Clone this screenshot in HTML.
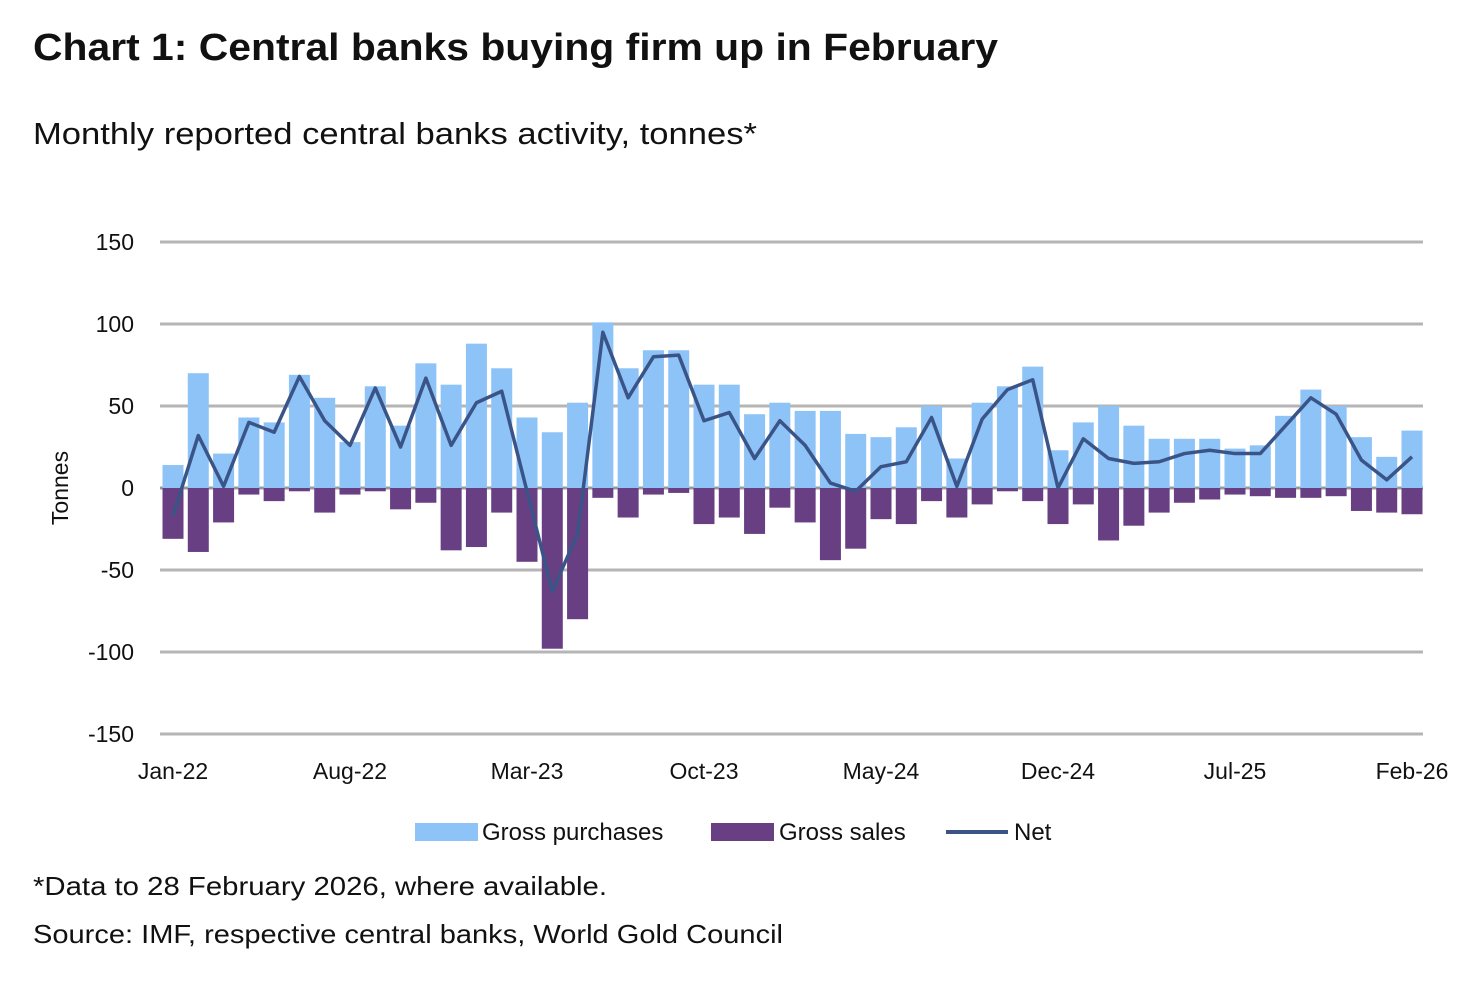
<!DOCTYPE html>
<html><head><meta charset="utf-8"><style>
html,body{margin:0;padding:0;background:#fff}
svg text{font-family:"Liberation Sans","DejaVu Sans",sans-serif;fill:#111}
</style></head><body>
<svg id="chart" width="1470" height="1002" viewBox="0 0 1470 1002" xmlns="http://www.w3.org/2000/svg">
<text x="33" y="60" font-size="38" font-weight="bold" textLength="965" lengthAdjust="spacingAndGlyphs">Chart 1: Central banks buying firm up in February</text>
<text x="33" y="144" font-size="31" textLength="724" lengthAdjust="spacingAndGlyphs">Monthly reported central banks activity, tonnes*</text>
<g id="grid"></g>
<g id="bars"></g>
<g id="line"></g>
<g id="axes"></g>
<text transform="translate(68,488) rotate(-90)" font-size="23" text-anchor="middle">Tonnes</text>
<g>
<rect x="415" y="823" width="63" height="18" fill="#8dc3f7"/>
<text x="482" y="840" font-size="24">Gross purchases</text>
<rect x="711" y="823" width="63" height="18" fill="#683f83"/>
<text x="779" y="840" font-size="24">Gross sales</text>
<line x1="946" y1="832" x2="1008" y2="832" stroke="#3b5488" stroke-width="4"/>
<text x="1014" y="840" font-size="24">Net</text>
</g>
<text x="33" y="895" font-size="26" textLength="574" lengthAdjust="spacingAndGlyphs">*Data to 28 February 2026, where available.</text>
<text x="33" y="943" font-size="26" textLength="750" lengthAdjust="spacingAndGlyphs">Source: IMF, respective central banks, World Gold Council</text>
</svg>
<script>
const purchases=[14,70,21,43,40,69,55,28,62,38,76,63,88,73,43,34,52,101,73,84,84,63,63,45,52,47,47,33,31,37,50,18,52,62,74,23,40,50,38,30,30,30,24,26,44,60,50,31,19,35];
const sales=[-31,-39,-21,-4,-8,-2,-15,-4,-2,-13,-9,-38,-36,-15,-45,-98,-80,-6,-18,-4,-3,-22,-18,-28,-12,-21,-44,-37,-19,-22,-8,-18,-10,-2,-8,-22,-10,-32,-23,-15,-9,-7,-4,-5,-6,-6,-5,-14,-15,-16];
const net=[-17,32,1,40,34,68,41,26,61,25,67,26,52,59,-2,-63,-28,95,55,80,81,41,46,18,41,26,3,-2,13,16,43,1,42,60,66,0,30,18,15,16,21,23,21,21,38,55,45,17,5,19];
const yTicks=[150,100,50,0,-50,-100,-150];
const xLabels=[[0,"Jan-22"],[7,"Aug-22"],[14,"Mar-23"],[21,"Oct-23"],[28,"May-24"],[35,"Dec-24"],[42,"Jul-25"],[49,"Feb-26"]];
const NS="http://www.w3.org/2000/svg";
const x=i=>173+i*(1412-173)/49;
const y=v=>488-v*1.64;
function mk(tag,attrs,parent){const e=document.createElementNS(NS,tag);for(const k in attrs)e.setAttribute(k,attrs[k]);document.getElementById(parent).appendChild(e);return e;}
yTicks.forEach(t=>{
 const l=mk('line',{x1:160,x2:1423,y1:y(t),y2:y(t),stroke:t===0?'#999':'#b5b5b5','stroke-width':3},'grid');
 
 
 const tx=mk('text',{x:134,y:y(t)+8,'font-size':23,'text-anchor':'end'},'axes');
 tx.textContent=t;
 
 
});
xLabels.forEach(([i,s])=>{
 const tx=mk('text',{x:x(i),y:779,'font-size':23,'text-anchor':'middle'},'axes');
 tx.textContent=s;
 
 
});
purchases.forEach((v,i)=>{
 const r=mk('rect',{x:x(i)-10.5,y:y(v),width:21,height:y(0)-y(v),fill:'#8dc3f7'},'bars');
 
 
});
sales.forEach((v,i)=>{
 const r=mk('rect',{x:x(i)-10.5,y:y(0),width:21,height:y(v)-y(0),fill:'#683f83'},'bars');
 
 
});
const p=mk('polyline',{points:net.map((v,i)=>x(i)+','+y(v)).join(' '),fill:'none',stroke:'#3b5488','stroke-width':3.5,'stroke-linejoin':'round'},'line');


</script>
</body></html>
